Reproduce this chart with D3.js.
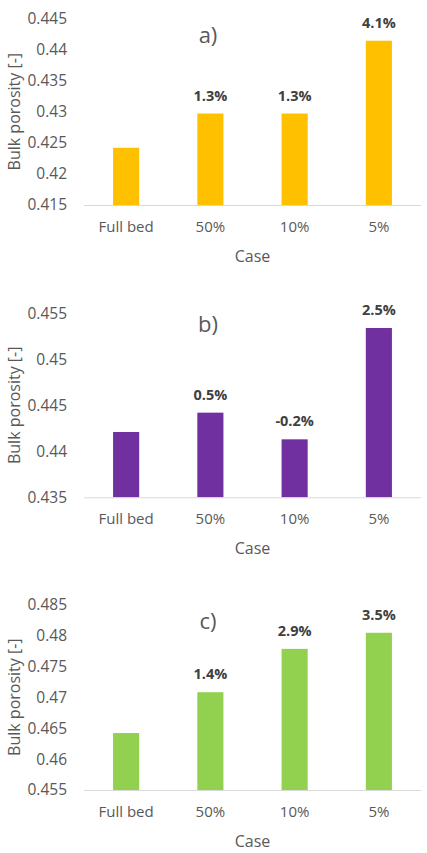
<!DOCTYPE html>
<html>
<head>
<meta charset="utf-8">
<script src="https://cdn.jsdelivr.net/npm/d3@7"></script>
<style>
  body { margin: 0; background: #fff; }
  text { font-family: "Open Sans", sans-serif; }
</style>
</head>
<body>
<div id="chart"></div>
<script>
const cases = ['Full bed', '50%', '10%', '5%']

const porosityA = [0.4242, 0.4297, 0.4297, 0.4414]
const porosityB = [0.4421, 0.4442, 0.4413, 0.4534]
const porosityC = [0.4642, 0.4708, 0.4778, 0.4804]

const changeA = ['', '1.3%', '1.3%', '4.1%']
const changeB = ['', '0.5%', '-0.2%', '2.5%']
const changeC = ['', '1.4%', '2.9%', '3.5%']

const ticksA = [0.415, 0.42, 0.425, 0.43, 0.435, 0.44, 0.445]
const ticksB = [0.435, 0.44, 0.445, 0.45, 0.455]
const ticksC = [0.455, 0.46, 0.465, 0.47, 0.475, 0.48, 0.485]

const titles = ['a)', 'b)', 'c)']

const width = 427, height = 853
const plotLeft = 84, plotRight = 421
const textColor = '#595959'

// one entry per panel: data + where it sits on the page
const panels = [
    { values: porosityA, labels: changeA, ticks: ticksA, title: titles[0], color: '#FFC000', top: 18.3, bottom: 205, titleY: 34 },
    { values: porosityB, labels: changeB, ticks: ticksB, title: titles[1], color: '#7030A0', top: 313.3, bottom: 497.3, titleY: 323 },
    { values: porosityC, labels: changeC, ticks: ticksC, title: titles[2], color: '#92D050', top: 604.3, bottom: 790, titleY: 620 },
]

let svg = d3.select('#chart')
    .append('svg')
    .attr('width', width)
    .attr('height', height)

let x = d3.scaleBand()
    .domain(cases)
    .range([plotLeft, plotRight])
    .paddingInner(0.69)
    .paddingOuter(0.345)

panels.forEach((p, k) => {
    let g = svg.append('g').attr('class', 'panel' + k)
    let ticks = p.ticks
    let y = d3.scaleLinear()
        .domain([ticks[0], ticks[ticks.length - 1]])
        .range([p.bottom, p.top])

    // y axis, labels only
    let yAxis = g.append('g')
        .attr('transform', `translate(${plotLeft}, 0)`)
        .call(d3.axisLeft(y)
            .tickValues(ticks)
            .tickSize(0)
            .tickPadding(17)
            .tickFormat(d => String(+d.toFixed(3))))
    yAxis.select('.domain').remove()
    yAxis.selectAll('text')
        .style('font-size', '15.5px')
        .style('fill', textColor)

    // bars
    g.selectAll('.bar')
        .data(p.values)
        .enter()
        .append('rect')
        .attr('class', 'bar')
        .attr('x', (d, i) => x(cases[i]))
        .attr('y', d => y(d))
        .attr('width', x.bandwidth())
        .attr('height', d => y(ticks[0]) - y(d))
        .style('fill', p.color)

    // x axis
    let xAxis = g.append('g')
        .attr('transform', `translate(0, ${p.bottom})`)
        .call(d3.axisBottom(x).tickSize(0).tickPadding(16.5).tickSizeOuter(0))
    xAxis.select('.domain')
        .attr('d', `M${plotLeft},0.5H${plotRight}`)
        .style('stroke', '#d9d9d9')
        .style('stroke-width', 1)
    xAxis.selectAll('text')
        .style('font-size', '15px')
        .style('fill', textColor)

    // percent change labels
    g.selectAll('.pct')
        .data(p.values)
        .enter()
        .append('text')
        .attr('class', 'pct')
        .attr('x', (d, i) => x(cases[i]) + x.bandwidth() / 2)
        .attr('y', d => y(d) - 13)
        .attr('text-anchor', 'middle')
        .style('font-size', '14.5px')
        .style('font-weight', 'bold')
        .style('fill', '#404040')
        .text((d, i) => p.labels[i])

    // panel title
    g.append('text')
        .attr('x', 208)
        .attr('y', p.titleY)
        .attr('text-anchor', 'middle')
        .attr('dominant-baseline', 'central')
        .style('font-size', '22px')
        .style('fill', textColor)
        .text(p.title)

    // axis titles
    g.append('text')
        .attr('transform', `translate(14, ${(p.top + p.bottom) / 2}) rotate(-90)`)
        .attr('text-anchor', 'middle')
        .attr('dominant-baseline', 'central')
        .style('font-size', '16px')
        .style('fill', textColor)
        .text('Bulk porosity [-]')

    g.append('text')
        .attr('x', (plotLeft + plotRight) / 2)
        .attr('y', p.bottom + 57)
        .attr('text-anchor', 'middle')
        .style('font-size', '16px')
        .style('fill', textColor)
        .text('Case')
})
</script>
</body>
</html>
